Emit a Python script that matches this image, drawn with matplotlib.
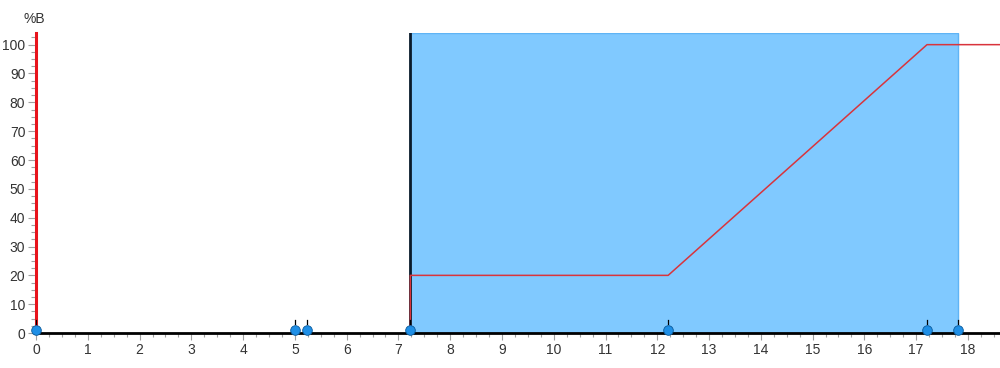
import matplotlib
matplotlib.use("Agg")
import matplotlib.pyplot as plt
from matplotlib.ticker import MultipleLocator
from matplotlib.patches import Rectangle

plt.rcParams["font.family"] = ["Liberation Sans", "DejaVu Sans"]

# gradient program (time in min, %B)
time_pts = [7.23, 7.23, 12.21, 17.21, 18.7]
b_pts = [0, 20, 20, 100, 100]

# injection / event markers
marker_x = [0.0, 5.0, 5.23, 7.23, 12.21, 17.21, 17.81]

# highlighted window
win_start = 7.23
win_end = 17.81

fig = plt.figure(figsize=(10, 3.68), dpi=100)
ax = fig.add_axes([0.035, 0.095, 0.965, 0.815])

ax.set_xlim(-0.02, 18.62)
ax.set_ylim(0, 104)

# blue window
ax.add_patch(Rectangle((win_start, 0), win_end - win_start, 104,
                       facecolor="#80c9ff", edgecolor="#5fb4f5", linewidth=1, zorder=1))
ax.plot([win_start, win_start], [0, 104], color="#0a1a2a", linewidth=2, zorder=2)

# red y-axis line at time 0
ax.plot([0, 0], [0, 104], color="#e8141c", linewidth=2.2, zorder=3, clip_on=False)

# gradient line
ax.plot(time_pts, b_pts, color="#d9343c", linewidth=1.1, zorder=3, clip_on=False)

# baseline
ax.axhline(0, color="black", linewidth=2, zorder=4, clip_on=False)

# markers
for mx in marker_x:
    ax.plot([mx, mx], [3.2, 4.6], color="black", linewidth=0.9, zorder=5, clip_on=False)
ax.scatter(marker_x, [1.0] * len(marker_x), s=48, color="#1f8fe6",
           edgecolor="#0b5a9a", linewidth=0.6, zorder=6, clip_on=False)

for s in ["top", "right", "left", "bottom"]:
    ax.spines[s].set_visible(False)

ax.xaxis.set_major_locator(MultipleLocator(1))
ax.xaxis.set_minor_locator(MultipleLocator(0.25))
ax.yaxis.set_major_locator(MultipleLocator(10))
ax.yaxis.set_minor_locator(MultipleLocator(2.5))
ax.set_yticks(range(0, 101, 10))

ax.tick_params(axis="both", which="major", length=5, width=0.8, color="#a0a0a0",
               labelsize=10, labelcolor="#333333", direction="out")
ax.tick_params(axis="both", which="minor", length=3, width=0.8, color="#a0a0a0",
               direction="out")
ax.tick_params(axis="x", pad=2)
ax.tick_params(axis="y", pad=2)

fig.text(0.024, 0.948, "%B", fontsize=10, color="#333333", ha="left", va="center")

fig.savefig("out.png", dpi=100, facecolor="white")
